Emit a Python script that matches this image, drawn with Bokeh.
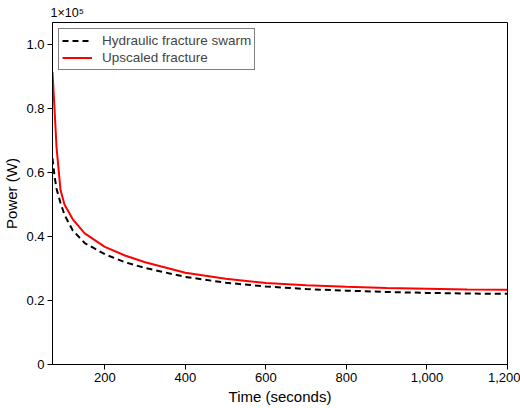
from bokeh.plotting import figure
from bokeh.models import (FixedTicker, CustomJSTickFormatter, NumeralTickFormatter,
                          Range1d, Legend, LegendItem)
from bokeh.embed import file_html
from bokeh.resources import INLINE

# Time (seconds)
time_s = [70, 75, 80, 90, 100, 120, 150, 200, 250, 300, 400, 500, 600, 700,
          800, 900, 1000, 1100, 1200]
# Power in units of 1x10^5 W
swarm_power = [0.645, 0.59, 0.55, 0.505, 0.468, 0.42, 0.38, 0.345, 0.32, 0.302,
               0.274, 0.256, 0.244, 0.236, 0.231, 0.227, 0.224, 0.222, 0.221]
upscaled_power = [0.915, 0.80, 0.68, 0.545, 0.50, 0.455, 0.41, 0.368, 0.341, 0.32,
                  0.287, 0.268, 0.255, 0.248, 0.243, 0.239, 0.237, 0.235, 0.234]

x_ticks = [200, 400, 600, 800, 1000, 1200]
y_ticks = [0, 0.2, 0.4, 0.6, 0.8, 1.0]
multiplier_text = "1×10⁵"

FONT = "Liberation Sans"

p = figure(width=520, height=408, output_backend="svg", toolbar_location=None,
           x_range=Range1d(70, 1200), y_range=Range1d(0, 1.07),
           min_border_left=46, min_border_right=13, min_border_top=22,
           min_border_bottom=44)
p.background_fill_color = "white"
p.border_fill_color = "white"
p.outline_line_color = "black"
p.outline_line_width = 1
p.xgrid.visible = False
p.ygrid.visible = False

p.title.text = multiplier_text
p.title.align = "left"
p.title.text_font = FONT
p.title.text_font_size = "12.5px"
p.title.text_font_style = "normal"
p.title.text_color = "black"
p.title.standoff = 6
p.title.offset = -2

r1 = p.line(time_s, swarm_power, line_color="black", line_width=2, line_dash="6 4")
r2 = p.line(time_s, upscaled_power, line_color="#ff0000", line_width=2)

for ax in (p.xaxis[0], p.yaxis[0]):
    ax.axis_line_color = "black"
    ax.major_tick_line_color = "black"
    ax.major_tick_in = 0
    ax.major_tick_out = 5
    ax.minor_tick_line_color = None
    ax.major_label_text_font = FONT
    ax.major_label_text_font_size = "13px"
    ax.major_label_text_color = "black"
    ax.axis_label_text_font = FONT
    ax.axis_label_text_font_size = "15px"
    ax.axis_label_text_font_style = "normal"
    ax.axis_label_text_color = "black"
    ax.major_label_standoff = 3
    ax.axis_label_standoff = 3

p.xaxis.ticker = FixedTicker(ticks=x_ticks)
p.xaxis.formatter = NumeralTickFormatter(format="0,0")
p.xaxis.axis_label = "Time (seconds)"
p.yaxis.ticker = FixedTicker(ticks=y_ticks)
p.yaxis.formatter = CustomJSTickFormatter(code="return tick == 0 ? '0' : tick.toFixed(1);")
p.yaxis.axis_label = "Power (W)"

legend = Legend(items=[LegendItem(label="Hydraulic fracture swarm", renderers=[r1]),
                       LegendItem(label="Upscaled fracture", renderers=[r2])],
                location="top_left")
legend.margin = 6
legend.padding = 3
legend.spacing = 0
legend.glyph_width = 30
legend.glyph_height = 17
legend.label_height = 17
legend.label_standoff = 10
legend.label_text_font = FONT
legend.label_text_font_size = "13.5px"
legend.border_line_color = "black"
legend.border_line_width = 1
legend.background_fill_alpha = 1
p.add_layout(legend)

open("out.html", "w").write(file_html(p, INLINE))
